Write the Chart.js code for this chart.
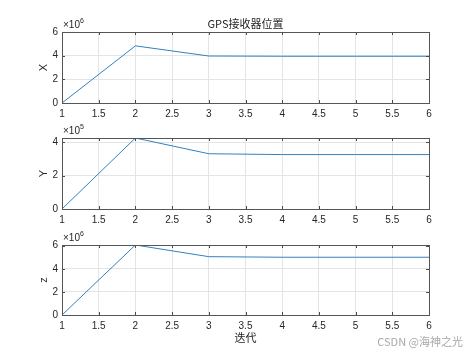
<!DOCTYPE html>
<html>
<head>
<meta charset="utf-8">
<script src="https://cdn.jsdelivr.net/npm/chart.js@4.4.0/dist/chart.umd.min.js"></script>
<style>
  html, body { margin: 0; padding: 0; background: #fff; }
  .panel { position: absolute; left: 0; }
</style>
</head>
<body>
<div class="panel" style="top:0"><canvas id="c1" width="474" height="122"></canvas></div>
<div class="panel" style="top:122px"><canvas id="c2" width="474" height="103"></canvas></div>
<div class="panel" style="top:225px"><canvas id="c3" width="474" height="130"></canvas></div>
<script>
// iterations
const iterations = [1, 2, 3, 4, 5, 6];
const xTicks = [1, 1.5, 2, 2.5, 3, 3.5, 4, 4.5, 5, 5.5, 6];

// receiver position per iteration
const posX = [0, 4.83e6, 3.97e6, 3.95e6, 3.95e6, 3.95e6];
const posY = [0, 4.24e5, 3.30e5, 3.25e5, 3.25e5, 3.25e5];
const posZ = [0, 6.06e6, 5.05e6, 5.00e6, 5.00e6, 5.00e6];

// y axis ticks (in units of 10^exp) and limits
const ticksX = [0, 2, 4, 6];
const ticksY = [0, 2, 4];
const ticksZ = [0, 2, 4, 6];
const limX = 6e6, limY = 4.24e5, limZ = 6.06e6;

const FONT = "'Liberation Sans', Arial, sans-serif";
const CJK = "'Noto Sans CJK SC', sans-serif";
const LINE = '#3580bd';

const matlabBox = {
  id: 'matlabBox',
  afterDraw(chart, args, o) {
    const { ctx, chartArea: a } = chart;
    const xs = chart.scales.x, ys = chart.scales.y;
    ctx.save();
    // inward ticks
    ctx.strokeStyle = '#4a4a4a';
    ctx.lineWidth = 1;
    ctx.beginPath();
    xs.ticks.forEach(t => {
      const px = Math.round(xs.getPixelForValue(t.value)) + 0.5;
      ctx.moveTo(px, a.bottom); ctx.lineTo(px, a.bottom - 3);
      ctx.moveTo(px, a.top); ctx.lineTo(px, a.top + 3);
    });
    ys.ticks.forEach(t => {
      const py = Math.round(ys.getPixelForValue(t.value)) + 0.5;
      ctx.moveTo(a.left, py); ctx.lineTo(a.left + 3, py);
      ctx.moveTo(a.right, py); ctx.lineTo(a.right - 3, py);
    });
    ctx.stroke();
    // box
    ctx.strokeStyle = '#555';
    ctx.strokeRect(Math.round(a.left) + 0.5, Math.round(a.top) + 0.5,
      Math.round(a.right - a.left), Math.round(a.bottom - a.top));

    ctx.fillStyle = '#262626';
    // exponent
    ctx.font = '10px ' + FONT;
    ctx.textAlign = 'left';
    ctx.textBaseline = 'alphabetic';
    ctx.fillText('\u00d710', a.left + 1, a.top - 4);
    const w = ctx.measureText('\u00d710').width;
    ctx.font = '7px ' + FONT;
    ctx.fillText(String(o.exp), a.left + 1 + w, a.top - 9);

    // y label
    ctx.font = '11px ' + FONT;
    ctx.textAlign = 'center';
    ctx.textBaseline = 'middle';
    ctx.save();
    ctx.translate(44, (a.top + a.bottom) / 2);
    ctx.rotate(-Math.PI / 2);
    ctx.fillText(o.yLabel, 0, 0);
    ctx.restore();

    if (o.title) {
      ctx.font = '11px ' + CJK;
      ctx.fillText(o.title, (a.left + a.right) / 2, 24);
    }
    if (o.xLabel) {
      ctx.font = '11px ' + CJK;
      ctx.fillText(o.xLabel, (a.left + a.right) / 2, a.bottom + 23);
    }
    if (o.mark) {
      ctx.font = '11px ' + CJK;
      ctx.fillStyle = '#a8a8a8';
      ctx.textAlign = 'right';
      ctx.fillText(o.mark, 463, 117);
    }
    ctx.restore();
  }
};

function makePanel(id, values, yTicks, yMax, exp, opts) {
  const scale = Math.pow(10, exp);
  const canvas = document.getElementById(id);
  const h = canvas.height;
  return new Chart(canvas, {
    type: 'line',
    data: {
      datasets: [{
        data: iterations.map((it, i) => ({ x: it, y: values[i] })),
        borderColor: LINE,
        borderWidth: 1,
        pointRadius: 0,
        tension: 0,
        fill: false
      }]
    },
    options: {
      responsive: false,
      animation: false,
      devicePixelRatio: 1,
      layout: { padding: { top: opts.top, right: 45, left: 0, bottom: 0 } },
      plugins: {
        legend: { display: false },
        tooltip: { enabled: false },
        matlabBox: { exp: exp, yLabel: opts.yLabel, title: opts.title, xLabel: opts.xLabel, mark: opts.mark }
      },
      scales: {
        x: {
          type: 'linear',
          min: 1,
          max: 6,
          afterBuildTicks: s => { s.ticks = xTicks.map(v => ({ value: v })); },
          afterFit: s => { s.height = h - opts.bottom; },
          grid: { color: '#e4e4e4', drawTicks: false },
          border: { display: false },
          ticks: { color: '#262626', padding: 5, maxRotation: 0, autoSkip: false,
                   font: { family: FONT, size: 10 },
                   callback: v => String(v) }
        },
        y: {
          min: 0,
          max: yMax,
          afterBuildTicks: s => { s.ticks = yTicks.map(v => ({ value: v * scale })); },
          afterFit: s => { s.width = 62; },
          grid: { color: '#e4e4e4', drawTicks: false },
          border: { display: false },
          ticks: { color: '#262626', padding: 4, font: { family: FONT, size: 10 },
                   callback: v => String(Math.round(v / scale)) }
        }
      }
    },
    plugins: [matlabBox]
  });
}

makePanel('c1', posX, ticksX, limX, 6, { top: 32, bottom: 103, yLabel: 'X', title: 'GPS接收器位置' });
makePanel('c2', posY, ticksY, limY, 5, { top: 16, bottom: 87, yLabel: 'Y' });
makePanel('c3', posZ, ticksZ, limZ, 6, { top: 20, bottom: 90, yLabel: 'z', xLabel: '迭代', mark: 'CSDN @海神之光' });
</script>
</body>
</html>
